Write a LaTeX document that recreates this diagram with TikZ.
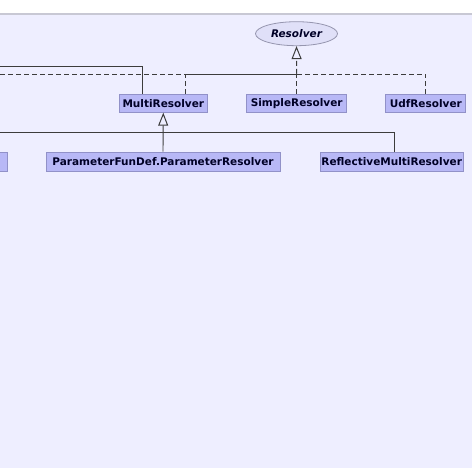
\documentclass[tikz,border=0pt]{standalone}
\usepackage{fontspec}
\setmainfont{DejaVu Sans}
\usetikzlibrary{arrows.meta,shapes.geometric}
\definecolor{bgl}{RGB}{238,238,255}
\definecolor{topline}{RGB}{200,200,212}
\definecolor{boxfill}{RGB}{184,184,246}
\definecolor{boxdraw}{RGB}{145,145,200}
\definecolor{ellfill}{RGB}{224,224,248}
\definecolor{elldraw}{RGB}{150,150,175}
\definecolor{edgecol}{RGB}{60,60,60}
\tikzset{
  cls/.style={rectangle, draw=boxdraw, fill=boxfill, line width=0.8pt, inner sep=0pt,
    minimum height=18pt, font=\fontsize{10.5}{12}\selectfont\bfseries, text=black!85!blue},
  iface/.style={ellipse, draw=elldraw, fill=ellfill, line width=0.8pt, inner sep=0pt,
    minimum width=82pt, minimum height=24pt, font=\fontsize{10.5}{12}\selectfont\bfseries\itshape, text=black!85!blue},
  edge/.style={draw=edgecol, line width=0.9pt},
  impl/.style={edge, dash pattern=on 5pt off 3pt},
  inh/.style={-{Triangle[open, length=13pt, width=10pt, fill=bgl, line width=1pt]}},
}
\begin{document}
\begin{tikzpicture}[x=1pt, y=-1pt]
\useasboundingbox (0,0) rectangle (474,470);
\fill[white] (0,0) rectangle (474,470);
\fill[bgl] (0,15) rectangle (472,468);
\fill[topline] (0,13) rectangle (472,15.5);

\node[iface] (resolver) at (296.5,33.7) {Resolver};
\node[cls, minimum width=88pt] (multi) at (163.3,103.3) {MultiResolver};
\node[cls, minimum width=100pt] (simple) at (296.7,103.3) {SimpleResolver};
\node[cls, minimum width=80pt] (udf) at (425.8,103.3) {UdfResolver};
\node[cls, minimum width=234pt, minimum height=19pt] (pfd) at (163,161.5) {ParameterFunDef.ParameterResolver};
\node[cls, minimum width=143pt, minimum height=19pt] (refl) at (391.7,161.5) {ReflectiveMultiResolver};
\node[cls, minimum width=27pt, minimum height=19pt] (leftbox) at (-6.2,161.5) {};

\coordinate (dl) at (0,74);
\coordinate (sl) at (0,66);
\coordinate (pl) at (0,132);
\coordinate (dj) at (296.7,74);
\coordinate (pj) at (163,132);

% implementations of Resolver
\draw[impl] (simple.north) -- (dj);
\draw[impl] ([xshift=21.7pt]multi.north) |- (dj);
\draw[impl] (udf.north) |- (dj);
\draw[impl] (dl) -- (dj);
\draw[impl, inh] (dj) -- (resolver.south);

% solid edge from MultiResolver to the left
\draw[edge] ([xshift=-21.3pt]multi.north) |- (sl);

% subclasses of MultiResolver
\draw[edge, inh] (pfd.north) -- (multi.south);
\draw[edge] ([xshift=2.6pt]refl.north) |- (pj);
\draw[edge] (pl) -- (pj);
\end{tikzpicture}
\end{document}
